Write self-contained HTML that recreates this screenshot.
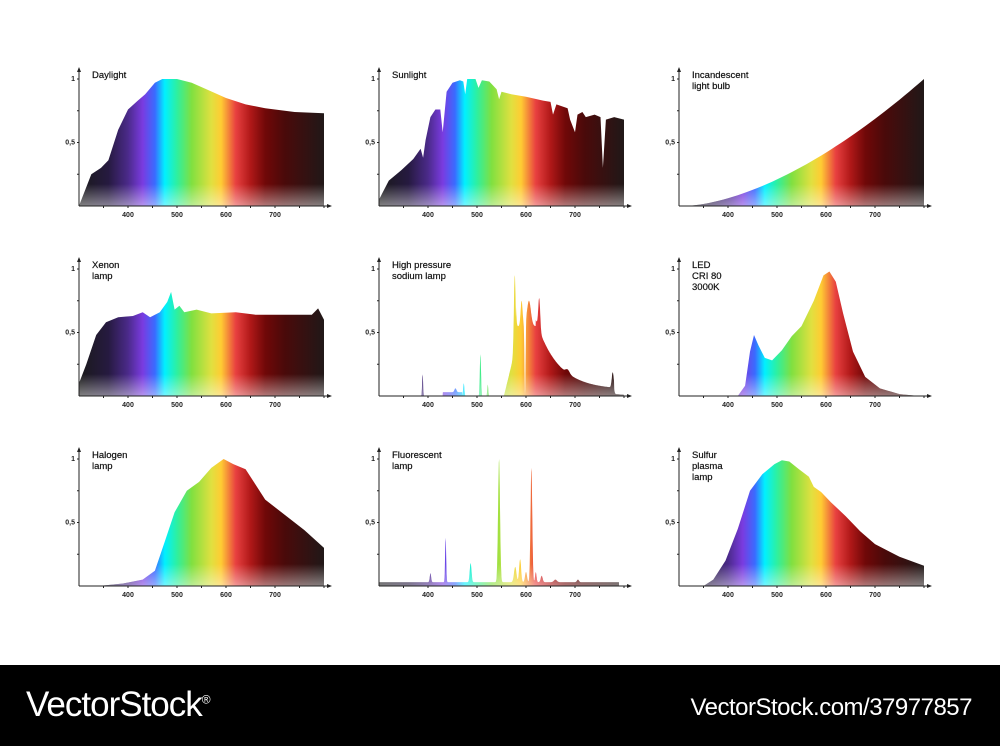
<!DOCTYPE html>
<html><head><meta charset="utf-8"><style>
body{margin:0;width:1000px;height:746px;background:#fff;overflow:hidden;font-family:"Liberation Sans",sans-serif}
#band{position:absolute;left:0;top:665px;width:1000px;height:81px;background:#000}
#band .l{position:absolute;left:26px;top:20px;color:#fff;font-size:35px;letter-spacing:-1px}
#band .r{position:absolute;right:28px;top:29px;color:#fff;font-size:24px;letter-spacing:-0.5px}
</style></head><body>
<svg id="s" width="1000" height="665" style="position:absolute;left:0;top:0">
<g id="g"></g>
</svg>
<div id="band"><div class="l">VectorStock<sup style="font-size:12px">®</sup></div><div class="r">VectorStock.com/37977857</div></div>
<script>
const STOPS=`<stop offset="0" stop-color="#1a1a1a"/><stop offset="0.12" stop-color="#261a40"/>
<stop offset="0.2" stop-color="#4b2a8a"/><stop offset="0.26" stop-color="#7a3be0"/>
<stop offset="0.31" stop-color="#3a6bff"/><stop offset="0.35" stop-color="#00f0ff"/>
<stop offset="0.4" stop-color="#2ef0a0"/><stop offset="0.46" stop-color="#80e040"/>
<stop offset="0.54" stop-color="#e0e040"/><stop offset="0.58" stop-color="#ffcc33"/>
<stop offset="0.64" stop-color="#e84040"/><stop offset="0.7" stop-color="#b01818"/>
<stop offset="0.76" stop-color="#700808"/><stop offset="0.84" stop-color="#4a0a0a"/>
<stop offset="1" stop-color="#201818"/>`;
const S={
day:[[300,0],[312,0.12],[325,0.25],[345,0.3],[360,0.36],[380,0.6],[400,0.76],[420,0.83],[435,0.88],[455,0.97],[470,1],[500,1],[530,0.97],[560,0.92],[600,0.85],[640,0.8],[680,0.77],[740,0.74],[800,0.73]],
sun:[[300,0.05],[320,0.2],[345,0.28],[370,0.37],[385,0.45],[390,0.38],[395,0.52],[405,0.7],[415,0.76],[425,0.76],[430,0.58],[438,0.9],[450,0.97],[465,0.99],[472,0.98],[476,0.88],[480,1],[497,1],[503,0.93],[510,0.99],[525,0.98],[540,0.92],[545,0.84],[550,0.9],[570,0.88],[600,0.86],[635,0.83],[650,0.82],[655,0.72],[662,0.8],[685,0.77],[690,0.68],[700,0.58],[705,0.72],[715,0.74],[722,0.7],[740,0.72],[752,0.7],[757,0.3],[763,0.68],[780,0.7],[800,0.68]],
xen:[[300,0.1],[315,0.25],[335,0.48],[355,0.58],[380,0.62],[410,0.63],[430,0.66],[445,0.62],[465,0.66],[480,0.74],[488,0.82],[495,0.68],[505,0.71],[515,0.66],[540,0.68],[570,0.65],[620,0.66],[660,0.64],[720,0.64],[775,0.64],[788,0.69],[800,0.6]],
led:[[420,0],[435,0.08],[445,0.35],[453,0.48],[462,0.4],[475,0.3],[490,0.28],[510,0.36],[530,0.47],[550,0.55],[575,0.75],[595,0.95],[607,0.98],[620,0.9],[635,0.65],[655,0.35],[680,0.15],[710,0.06],[750,0.015],[790,0]],
hal:[[340,0],[390,0.02],[430,0.05],[455,0.12],[475,0.35],[495,0.58],[520,0.75],[545,0.82],[570,0.93],[595,1],[615,0.96],[640,0.92],[660,0.8],[680,0.68],[720,0.56],[760,0.44],[800,0.3]],
sul:[[350,0],[370,0.05],[395,0.2],[420,0.45],[445,0.75],[470,0.88],[495,0.96],[510,0.99],[525,0.98],[545,0.92],[565,0.86],[575,0.78],[590,0.74],[610,0.66],[640,0.55],[670,0.43],[700,0.33],[750,0.23],[800,0.16]],
};
S.inc=[];for(let n=300;n<=800;n+=10){let t=Math.max(0,(n-310)/490);S.inc.push([n,Math.pow(t,1.65)])}
function spikes(base,sp,from,to){let a=[];for(let n=from;n<=to;n+=0.5){let v=base(n);for(const [c,h,w] of sp){v+=h*Math.exp(-((n-c)*(n-c))/(2*w*w))}a.push([n,Math.max(0,Math.min(v,1))])}return a}
S.hps=spikes(n=>{let v=0;if(n>555&&n<800){v=n<580?0.4*(n-555)/25:n<620?0.55:0.55*Math.exp(-(n-620)/45)+0.05*(n<780?1:0)}if(n>430&&n<470)v+=0.03;return v},
[[389,0.17,1],[456,0.03,2],[473,0.1,1.2],[507,0.33,1.2],[522,0.09,1],[577,0.6,1.8],[591,0.2,2],[606,0.2,4],[627,0.25,2],[685,0.03,4],[777,0.12,2],[598,-0.6,1]],300,800);
S.flu=spikes(n=>n<790?0.03:0,[[405,0.07,1.4],[436,0.35,1.1],[487,0.15,1.8],[545,0.97,2],[578,0.12,2.5],[588,0.18,2],[600,0.08,2],[611,0.9,1.8],[620,0.08,1.5],[632,0.05,2],[660,0.02,3],[706,0.02,2]],300,795);
const P=[["day",["Daylight"]],["sun",["Sunlight"]],["inc",["Incandescent","light bulb"]],
["xen",["Xenon","lamp"]],["hps",["High pressure","sodium lamp"]],["led",["LED","CRI 80","3000K"]],
["hal",["Halogen","lamp"]],["flu",["Fluorescent","lamp"]],["sul",["Sulfur","plasma","lamp"]]];
let h='';
P.forEach(([k,lab],i)=>{const ox=79+300*(i%3),oy=206+190*Math.floor(i/3);
const X=n=>ox+(n-300)*0.49,Y=v=>oy-v*127;
h+=`<defs><linearGradient id="sp${i}" gradientUnits="userSpaceOnUse" x1="${ox}" x2="${ox+245}" y1="0" y2="0">${STOPS}</linearGradient>
<linearGradient id="fd${i}" gradientUnits="userSpaceOnUse" x1="0" x2="0" y1="${oy-22}" y2="${oy}"><stop offset="0" stop-color="#fff" stop-opacity="0"/><stop offset="1" stop-color="#fff" stop-opacity="0.45"/></linearGradient></defs>`;
const d=S[k];let p=`M${X(d[0][0]).toFixed(1)},${oy}`;d.forEach(([n,v])=>p+=`L${X(n).toFixed(1)},${Y(v).toFixed(1)}`);p+=`L${X(d[d.length-1][0]).toFixed(1)},${oy}Z`;
h+=`<g><path d="${p}" fill="url(#sp${i})"/>`;
h+=`<path d="${p}" fill="url(#fd${i})"/>`;
h+=`<line x1="${ox}" y1="${oy}" x2="${ox}" y2="${oy-136}" stroke="#222" stroke-width="1"/><path d="M${ox-2},${oy-134}L${ox},${oy-139}L${ox+2},${oy-134}Z" fill="#222"/>`;
h+=`<line x1="${ox}" y1="${oy}" x2="${ox+250}" y2="${oy}" stroke="#222" stroke-width="1"/><path d="M${ox+248},${oy-2}L${ox+253},${oy}L${ox+248},${oy+2}Z" fill="#222"/>`;
for(let n=350;n<=800;n+=50)h+=`<line x1="${X(n)}" y1="${oy}" x2="${X(n)}" y2="${oy+2}" stroke="#222"/>`;
for(const v of [0.25,0.5,0.75,1])h+=`<line x1="${ox-2}" y1="${Y(v)}" x2="${ox}" y2="${Y(v)}" stroke="#222"/>`;
[400,500,600,700].forEach(n=>h+=`<text x="${X(n)}" y="${oy+11}" font-size="7" font-weight="bold" text-anchor="middle" fill="#222">${n}</text>`);
h+=`<text x="${ox-4}" y="${Y(1)+2}" font-size="7" font-weight="bold" text-anchor="end" fill="#222">1</text>`;
h+=`<text x="${ox-4}" y="${Y(0.5)+2}" font-size="7" font-weight="bold" text-anchor="end" fill="#222">0,5</text>`;
lab.forEach((t,j)=>h+=`<text x="${ox+13}" y="${oy-128+j*11}" font-size="9.5" fill="#111" stroke="#111" stroke-width="0.2">${t}</text>`);
h+='</g>';});
document.getElementById('g').innerHTML=h;
</script>
</body></html>
